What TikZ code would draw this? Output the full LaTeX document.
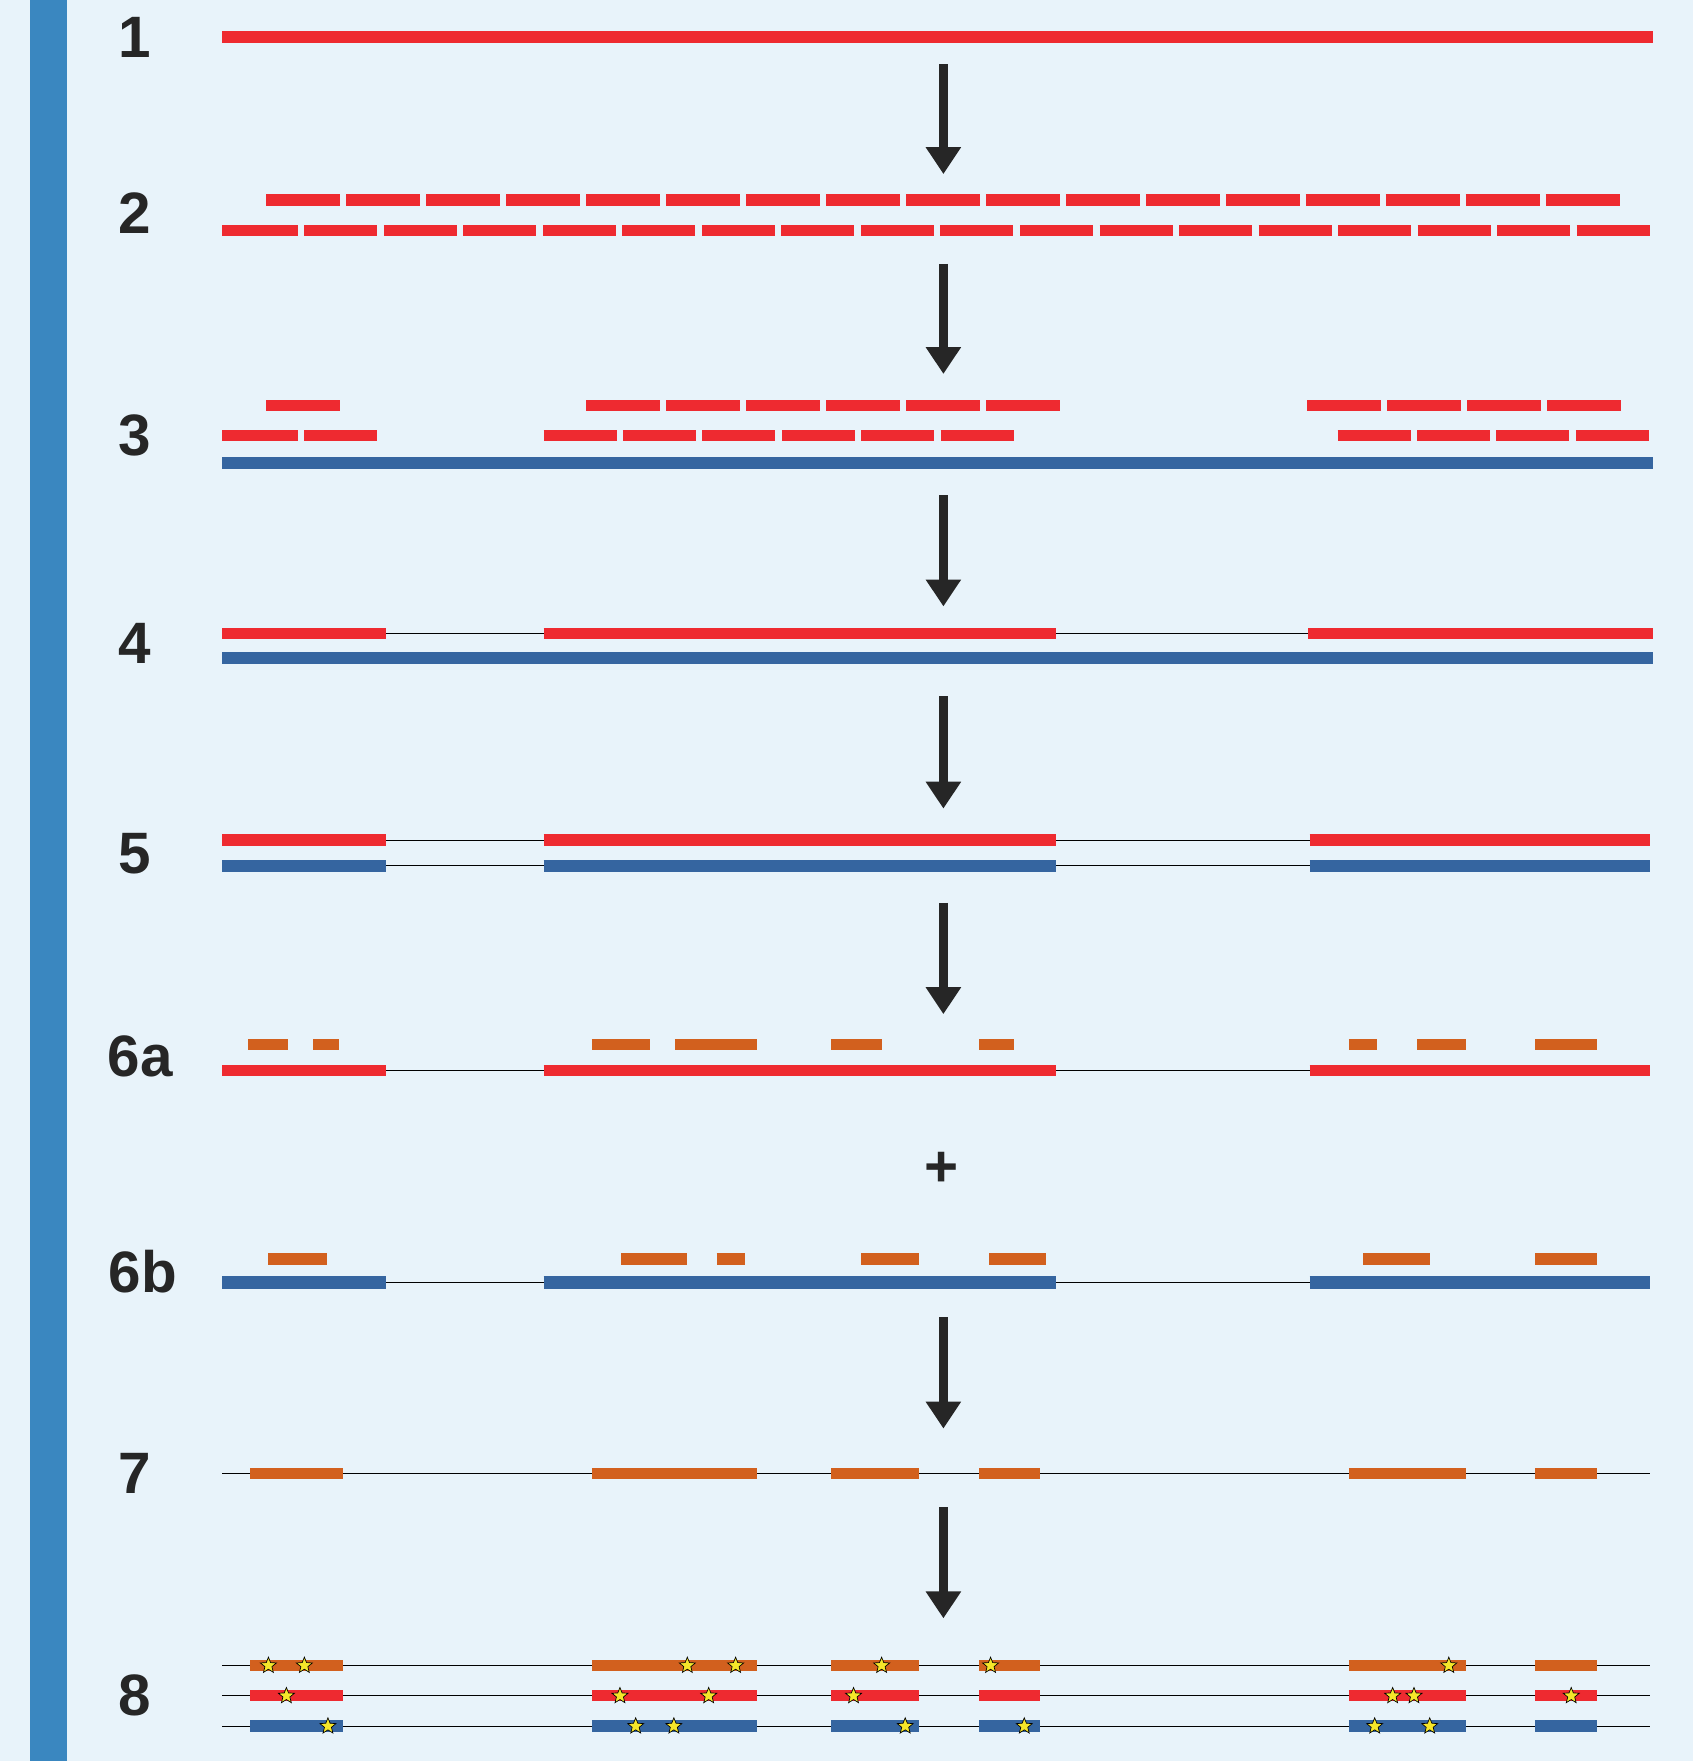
\documentclass[tikz,border=0pt]{standalone}
\usepackage{fontspec}
\setmainfont{Liberation Sans}
\usetikzlibrary{shapes.geometric,arrows.meta}
\definecolor{bg}{HTML}{E8F3FA}
\definecolor{bar}{HTML}{3A87C0}
\definecolor{rd}{HTML}{EE2A30}
\definecolor{bl}{HTML}{3565A0}
\definecolor{og}{HTML}{D2601E}
\definecolor{yl}{HTML}{F5E62A}
\tikzset{
 rbar/.style={line width=10pt,rd},
 bbar/.style={line width=11pt,bl},
 obar/.style={line width=10pt,og},
 thin/.style={line width=1pt,black},
 flow/.style={line width=8pt,-{Triangle[length=24pt,width=30pt]},black!85},
 lab/.style={font=\fontsize{52}{52}\bfseries\selectfont,text=black!85},
 st/.style={star,star points=5,star point ratio=2.3,draw=black,fill=yl,line width=0.6pt,inner sep=0pt,minimum size=15pt}
}
\begin{document}
\begin{tikzpicture}[x=1pt,y=-1pt]
\fill[bg] (0,0) rectangle (1507,1568);
\useasboundingbox (0,0) rectangle (1507,1568);
\fill[bar] (27,0) rectangle (60,1568);
% labels
\node[lab] (l1) at (120,33) {1};
\node[lab] (l2) at (120,190) {2};
\node[lab] (l3) at (120,388) {3};
\node[lab] (l4) at (120,573) {4};
\node[lab] (l5) at (120,760) {5};
\node[lab] (l6a) at (125,941) {6a};
\node[lab] (l6b) at (127,1132) {6b};
\node[lab] (l7) at (120,1312) {7};
\node[lab] (l8) at (120,1510) {8};
\node[font=\fontsize{52}{52}\bfseries\selectfont,text=black!85] (plus) at (838,1041) {+};
% arrows
\foreach \a/\b [count=\i] in {57/155,235/333,441/540,620/720,804/903,1173/1272,1342/1441}{
 \coordinate (as\i) at (840,\a); \coordinate (ae\i) at (840,\b);
 \draw[flow] (as\i) -- (ae\i);}
% row 1
\draw[rbar] (198,33) -- (1472,33);
% row 2
\foreach \i in {0,...,16}{\draw[rbar] ({237+71.2*\i},178) -- ++(66,0);}
\draw[rbar] (198,205) -- (265,205);
\foreach \i in {0,...,16}{\draw[rbar] ({271+70.8*\i},205) -- ++(65,0);}
% row 3
\draw[rbar] (237,361) -- ++(66,0);
\foreach \i in {0,...,5}{\draw[rbar] ({522+71.2*\i},361) -- ++(66,0);}
\foreach \i in {0,...,3}{\draw[rbar] ({1164+71.2*\i},361) -- ++(66,0);}
\draw[rbar] (198,388) -- (265,388);
\draw[rbar] (271,388) -- (336,388);
\foreach \i in {0,...,5}{\draw[rbar] ({484+70.7*\i},388) -- ++(65,0);}
\foreach \i in {0,...,3}{\draw[rbar] ({1191+70.7*\i},388) -- ++(65,0);}
\draw[bbar] (198,412) -- (1472,412);
% row 4
\draw[thin] (198,564) -- (1472,564);
\foreach \a/\b in {198/344,484/940,1165/1472}{\draw[rbar] (\a,564) -- (\b,564);}
\draw[bbar] (198,586) -- (1472,586);
% row 5
\draw[thin] (198,748) -- (1469,748);
\draw[thin] (198,771) -- (1469,771);
\foreach \a/\b in {198/344,484/940,1166/1469}{\draw[rbar] (\a,748) -- (\b,748);\draw[bbar] (\a,771) -- (\b,771);}
% 6a
\draw[thin] (198,953) -- (1469,953);
\foreach \a/\b in {198/344,484/940,1166/1469}{\draw[rbar] (\a,953) -- (\b,953);}
\foreach \a/\b in {221/256,279/302,527/579,601/674,740/785,872/903,1201/1226,1262/1305,1367/1422}{\draw[obar] (\a,930) -- (\b,930);}
% 6b
\draw[thin] (198,1142) -- (1469,1142);
\foreach \a/\b in {198/344,484/940,1166/1469}{\draw[bbar] (\a,1142) -- (\b,1142);}
\foreach \a/\b in {239/291,553/612,638/663,767/818,881/931,1214/1273,1367/1422}{\draw[obar] (\a,1121) -- (\b,1121);}
% 7
\draw[thin] (198,1312) -- (1469,1312);
\foreach \a/\b in {223/305,527/674,740/818,872/926,1201/1305,1367/1422}{\draw[obar] (\a,1312) -- (\b,1312);}
% 8
\foreach \y in {1483,1510,1537}{\draw[thin] (198,\y) -- (1469,\y);}
\foreach \a/\b in {223/305,527/674,740/818,872/926,1201/1305,1367/1422}{
 \draw[obar] (\a,1483) -- (\b,1483);
 \draw[rbar] (\a,1510) -- (\b,1510);
 \draw[bbar] (\a,1537) -- (\b,1537);}
\foreach \x [count=\i] in {239,271,612,655,785,882,1290}{\node[st] (so\i) at (\x,1483) {};}
\foreach \x [count=\i] in {255,552,631,760,1240,1259,1399}{\node[st] (sr\i) at (\x,1510) {};}
\foreach \x [count=\i] in {292,566,600,806,912,1224,1273}{\node[st] (sb\i) at (\x,1537) {};}
\end{tikzpicture}
\end{document}
